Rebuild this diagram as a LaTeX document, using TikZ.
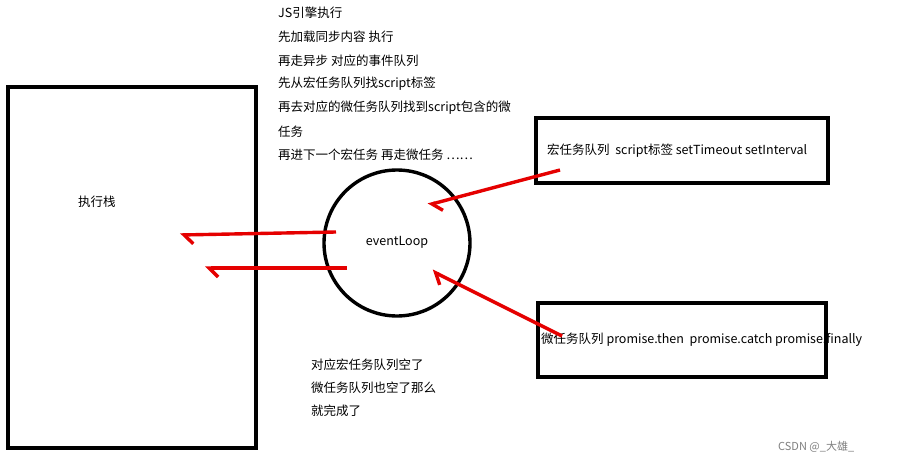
\documentclass[tikz,border=0pt]{standalone}
\usepackage{fontspec}
\setmainfont{Noto Sans CJK SC}
\usetikzlibrary{arrows.meta}
\begin{document}
\begin{tikzpicture}[x=1pt,y=-1pt,
  blk/.style={draw=black,line width=3.4pt},
  redl/.style={draw=red!90!black,line width=3.4pt},
  lh/.style={redl,-{Straight Barb[left,length=9pt,width=18pt,line width=3.4pt]}},
  rh/.style={redl,-{Straight Barb[right,length=9pt,width=18pt,line width=3.4pt]}},
  txt/.style={font=\fontsize{12.5}{14}\selectfont,anchor=west,inner sep=0pt}]
\useasboundingbox (0,0) rectangle (907,465);
\fill[white] (0,0) rectangle (907,465);
\draw[blk] (8,87) rectangle (256,448);
\node[blk,circle,minimum size=146pt,inner sep=0pt] (loop) at (397,243) {};
\node[txt,anchor=center] (el) at (397,242) {eventLoop};
\draw[blk] (536,118) rectangle (828,183);
\draw[blk] (538,303) rectangle (826,377);
\node[txt] (stack) at (78,202) {执行栈};
\node[txt] (m1) at (547,151) {宏任务队列\ \ script标签 setTimeout setInterval};
\node[txt] (m2) at (541,340) {微任务队列 promise.then\ \ promise.catch promise.finally};
\foreach \t [count=\i from 0] in {JS引擎执行,先加载同步内容 执行,再走异步 对应的事件队列,先从宏任务队列找script标签,再去对应的微任务队列找到script包含的微,任务,{再进下一个宏任务 再走微任务 \ldots\ldots}}
  \node[txt] (t\i) at (278,{13+23.7*\i}) {\t};
\foreach \t [count=\i from 0] in {对应宏任务队列空了,微任务队列也空了那么,就完成了}
  \node[txt] (b\i) at (311,{365+23*\i}) {\t};
\node[txt,text=gray,font=\fontsize{11}{13}\selectfont] (csdn) at (778,447) {CSDN @\_大雄\_};
\coordinate (a1s) at (336,232); \coordinate (a1e) at (180,235);
\coordinate (a2s) at (347,268); \coordinate (a2e) at (205,268);
\coordinate (a3s) at (560,170); \coordinate (a3e) at (428,205);
\coordinate (a4s) at (562,336); \coordinate (a4e) at (432,271);
\draw[lh] (a1s) -- (a1e);
\draw[lh] (a2s) -- (a2e);
\draw[lh] (a3s) -- (a3e);
\draw[lh] (a4s) -- (a4e);
\end{tikzpicture}
\end{document}
